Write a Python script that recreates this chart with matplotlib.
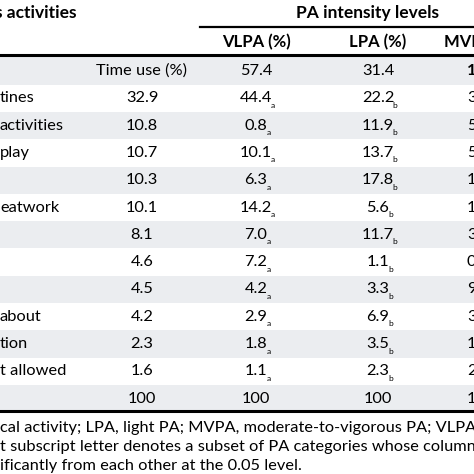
import matplotlib
matplotlib.use("Agg")
import matplotlib.pyplot as plt
from matplotlib.patches import Rectangle

plt.rcParams['font.family'] = ['Lato', 'DejaVu Sans']

labels = ["", "tines", "activities", "play", "", "eatwork", "", "", "", "about", "tion", "t allowed", ""]
time_use = ["Time use (%)", "32.9", "10.8", "10.7", "10.3", "10.1", "8.1", "4.6", "4.5", "4.2", "2.3", "1.6", "100"]
vlpa = ["57.4", "44.4", "0.8", "10.1", "6.3", "14.2", "7.0", "7.2", "4.2", "2.9", "1.8", "1.1", "100"]
lpa = ["31.4", "22.2", "11.9", "13.7", "17.8", "5.6", "11.7", "1.1", "3.3", "6.9", "3.5", "2.3", "100"]
mvpa = ["11.2", "3.6", "54.3", "5.9", "18.0", "1.7", "3.4", "0.9", "9.2", "3.1", "1.5", "2.5", "100"]
sub_v = ["", "a", "a", "a", "a", "a", "a", "a", "a", "a", "a", "a", ""]
sub_l = ["", "b", "b", "b", "b", "b", "b", "b", "b", "b", "b", "b", ""]
footnote = ["cal activity; LPA, light PA; MVPA, moderate-to-vigorous PA; VLPA, very",
            "t subscript letter denotes a subset of PA categories whose column pr",
            "ificantly from each other at the 0.05 level."]

fig = plt.figure(figsize=(4.74, 4.74), dpi=100)
ax = fig.add_axes([0, 0, 1, 1])
ax.set_xlim(0, 474); ax.set_ylim(474, 0); ax.axis('off')

fs = 11.8
ax.text(-5, 13, "s activities", fontsize=12.5, fontweight='bold', va='center', ha='left')
ax.text(368, 13, "PA intensity levels", fontsize=12.5, fontweight='bold', va='center', ha='center')
ax.plot([200, 474], [27, 27], color='black', lw=1.6)
ax.text(256, 42, "VLPA (%)", fontsize=12, fontweight='bold', va='center', ha='center')
ax.text(378, 42, "LPA (%)", fontsize=12, fontweight='bold', va='center', ha='center')
ax.text(444, 42, "MVPA (%)", fontsize=12, fontweight='bold', va='center', ha='left')
ax.plot([0, 474], [55, 55], color='black', lw=2.2)

y0, dy = 71, 27.3
for i in range(len(time_use)):
    y = y0 + i * dy
    if i % 2 == 0:
        ax.add_patch(Rectangle((0, y - dy / 2), 474, dy, color='#ebedf0', lw=0, zorder=0))
    ax.text(0, y, labels[i], fontsize=fs, va='center', ha='left')
    ax.text(142, y, time_use[i], fontsize=fs, va='center', ha='center')
    for col, vals, subs in ((256, vlpa, sub_v), (378, lpa, sub_l)):
        ax.text(col, y, vals[i], fontsize=fs, va='center', ha='center')
        if subs[i]:
            half = 3.9 * len(vals[i])
            ax.text(col + half - 1, y + 7, subs[i], fontsize=6, va='center', ha='left')
    ax.text(467, y, mvpa[i], fontsize=fs, va='center', ha='left',
            fontweight='bold' if i == 0 else 'normal')
ax.plot([0, 474], [411, 411], color='black', lw=2.2)

for j, line in enumerate(footnote):
    ax.text(0, 428 + j * 19, line, fontsize=11.8, va='center', ha='left')

fig.savefig("out.png", dpi=100)
